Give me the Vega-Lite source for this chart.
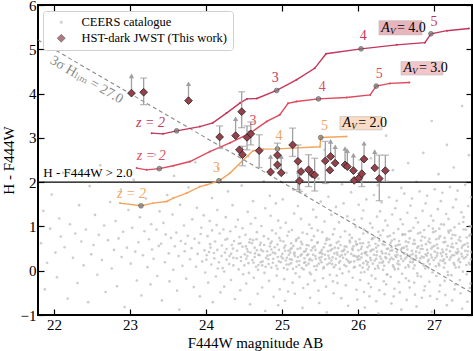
{
"$schema": "https://vega.github.io/schema/vega-lite/v6.json",
"width": 434, "height": 310,
"autosize": {"type": "none"},
"padding": {"left": 38, "top": 5, "right": 2, "bottom": 36},
"background": "white",
"config": {
 "view": {"stroke": "black", "strokeWidth": 2},
 "axis": {"labelFont": "Liberation Serif", "titleFont": "Liberation Serif", "labelFontSize": 15, "titleFontSize": 15, "titleFontWeight": "normal", "labelColor": "black", "titleColor": "black", "tickColor": "black", "tickWidth": 1.2, "tickSize": -6, "labelPadding": 8, "grid": false, "domain": false, "zindex": 1, "labelFlush": false},
 "text": {"font": "Liberation Serif"}
},
"datasets": {
 "ceers": [
{"m":21.83,"c":0.62},{"m":21.86,"c":1.35},{"m":21.88,"c":-0.42},{"m":21.91,"c":0.18},{"m":21.95,"c":0.95},{"m":21.97,"c":1.72},
{"m":22.02,"c":0.41},{"m":22.04,"c":-0.15},{"m":22.07,"c":1.18},{"m":22.09,"c":0.77},{"m":22.12,"c":2.21},{"m":22.14,"c":0.53},{"m":22.18,"c":-0.63},
{"m":22.21,"c":1.05},{"m":22.25,"c":0.29},{"m":22.28,"c":0.84},{"m":22.31,"c":-0.28},{"m":22.33,"c":1.48},{"m":22.36,"c":0.66},{"m":22.39,"c":0.12},
{"m":22.42,"c":0.93},{"m":22.45,"c":-0.71},{"m":22.47,"c":1.91},{"m":22.49,"c":0.37},{"m":22.52,"c":0.58},{"m":22.54,"c":1.26},{"m":22.57,"c":-0.09},{"m":22.59,"c":0.81},
{"m":22.61,"c":2.38},{"m":22.63,"c":0.24},{"m":22.66,"c":1.02},{"m":22.68,"c":-0.48},{"m":22.71,"c":0.69},{"m":22.74,"c":1.55},{"m":22.76,"c":0.05},{"m":22.79,"c":0.47},
{"m":22.81,"c":1.12},{"m":22.83,"c":-0.35},{"m":22.85,"c":0.73},{"m":22.88,"c":1.83},{"m":22.89,"c":0.31},{"m":22.91,"c":0.88},{"m":22.93,"c":-0.82},{"m":22.96,"c":0.52},{"m":22.98,"c":1.37},
{"m":23.01,"c":0.16},{"m":23.03,"c":0.97},{"m":23.05,"c":2.05},{"m":23.07,"c":0.43},{"m":23.09,"c":-0.22},
{"m":23.11,"c":0.64},{"m":23.13,"c":1.21},{"m":23.15,"c":-0.56},{"m":23.17,"c":0.35},{"m":23.19,"c":0.89},
{"m":23.21,"c":1.63},{"m":23.23,"c":0.08},{"m":23.25,"c":0.71},{"m":23.27,"c":-0.31},{"m":23.29,"c":0.48},{"m":23.28,"c":1.05},
{"m":23.31,"c":0.27},{"m":23.33,"c":2.62},{"m":23.35,"c":0.93},{"m":23.36,"c":-0.12},{"m":23.38,"c":0.56},{"m":23.39,"c":1.34},
{"m":23.41,"c":0.61},{"m":23.42,"c":-0.67},{"m":23.44,"c":1.08},{"m":23.46,"c":0.19},{"m":23.47,"c":0.82},{"m":23.49,"c":1.71},
{"m":23.51,"c":0.39},{"m":23.52,"c":-0.24},{"m":23.54,"c":0.74},{"m":23.56,"c":1.27},{"m":23.57,"c":0.02},{"m":23.59,"c":0.55},{"m":23.58,"c":2.14},
{"m":23.61,"c":0.86},{"m":23.62,"c":-0.45},{"m":23.64,"c":0.33},{"m":23.66,"c":1.49},{"m":23.67,"c":0.67},{"m":23.69,"c":0.11},{"m":23.65,"c":-0.88},
{"m":23.71,"c":1.02},{"m":23.72,"c":0.44},{"m":23.74,"c":-0.18},{"m":23.76,"c":0.79},{"m":23.77,"c":1.88},{"m":23.79,"c":0.26},{"m":23.73,"c":0.61},
{"m":23.81,"c":0.51},{"m":23.82,"c":1.16},{"m":23.84,"c":-0.37},{"m":23.85,"c":0.72},{"m":23.87,"c":0.09},{"m":23.88,"c":1.42},{"m":23.89,"c":0.38},{"m":23.86,"c":2.45},
{"m":23.91,"c":0.63},{"m":23.92,"c":-0.58},{"m":23.94,"c":0.97},{"m":23.95,"c":0.21},{"m":23.97,"c":1.25},{"m":23.98,"c":0.46},{"m":23.99,"c":-0.04},{"m":23.93,"c":0.83},
{"m":24.01,"c":0.35},{"m":24.02,"c":0.78},{"m":24.03,"c":-0.27},{"m":24.05,"c":1.12},{"m":24.06,"c":0.52},{"m":24.07,"c":0.14},{"m":24.08,"c":1.64},{"m":24.09,"c":-0.71},{"m":24.04,"c":0.42},{"m":24.08,"c":0.91},
{"m":24.11,"c":0.28},{"m":24.12,"c":0.66},{"m":24.13,"c":-0.13},{"m":24.14,"c":1.03},{"m":24.15,"c":0.47},{"m":24.16,"c":2.31},{"m":24.17,"c":0.19},{"m":24.18,"c":0.84},{"m":24.19,"c":-0.49},{"m":24.15,"c":1.37},
{"m":24.21,"c":0.57},{"m":24.22,"c":0.06},{"m":24.23,"c":0.93},{"m":24.24,"c":-0.36},{"m":24.25,"c":0.41},{"m":24.26,"c":1.21},{"m":24.27,"c":0.25},{"m":24.28,"c":0.72},{"m":24.29,"c":1.79},{"m":24.24,"c":-0.02},{"m":24.27,"c":0.49},
{"m":24.31,"c":0.33},{"m":24.32,"c":0.89},{"m":24.33,"c":-0.21},{"m":24.34,"c":0.58},{"m":24.35,"c":1.48},{"m":24.36,"c":0.12},{"m":24.37,"c":0.67},{"m":24.38,"c":-0.64},{"m":24.39,"c":0.99},{"m":24.33,"c":0.38},{"m":24.36,"c":0.29},
{"m":24.41,"c":0.45},{"m":24.42,"c":1.15},{"m":24.43,"c":0.03},{"m":24.44,"c":0.76},{"m":24.45,"c":-0.44},{"m":24.46,"c":0.31},{"m":24.47,"c":1.92},{"m":24.48,"c":0.54},{"m":24.49,"c":-0.08},{"m":24.43,"c":0.61},{"m":24.46,"c":0.22},{"m":24.48,"c":0.96},
{"m":24.51,"c":0.37},{"m":24.52,"c":0.81},{"m":24.53,"c":-0.29},{"m":24.54,"c":0.49},{"m":24.55,"c":1.33},{"m":24.56,"c":0.17},{"m":24.57,"c":0.64},{"m":24.58,"c":-0.76},{"m":24.59,"c":1.06},{"m":24.53,"c":0.27},{"m":24.55,"c":0.43},{"m":24.58,"c":0.71},{"m":24.56,"c":2.58},
{"m":24.61,"c":0.24},{"m":24.62,"c":0.69},{"m":24.63,"c":-0.16},{"m":24.64,"c":0.52},{"m":24.65,"c":1.19},{"m":24.66,"c":0.09},{"m":24.67,"c":0.87},{"m":24.68,"c":-0.52},{"m":24.69,"c":0.36},{"m":24.62,"c":1.57},{"m":24.64,"c":0.31},{"m":24.67,"c":0.46},{"m":24.69,"c":0.13},
{"m":24.71,"c":0.58},{"m":24.72,"c":0.19},{"m":24.73,"c":1.01},{"m":24.74,"c":-0.38},{"m":24.75,"c":0.44},{"m":24.76,"c":0.78},{"m":24.77,"c":-0.05},{"m":24.78,"c":1.41},{"m":24.79,"c":0.29},{"m":24.72,"c":0.63},{"m":24.74,"c":0.12},{"m":24.76,"c":2.02},{"m":24.78,"c":-0.91},
{"m":24.81,"c":0.34},{"m":24.82,"c":0.72},{"m":24.83,"c":-0.23},{"m":24.84,"c":0.55},{"m":24.85,"c":1.24},{"m":24.86,"c":0.07},{"m":24.87,"c":0.91},{"m":24.88,"c":0.41},{"m":24.89,"c":-0.59},{"m":24.82,"c":0.26},{"m":24.84,"c":1.69},{"m":24.86,"c":0.48},{"m":24.88,"c":0.18},{"m":24.85,"c":0.62},
{"m":24.91,"c":0.39},{"m":24.92,"c":0.84},{"m":24.93,"c":-0.11},{"m":24.94,"c":0.59},{"m":24.95,"c":1.13},{"m":24.96,"c":0.21},{"m":24.97,"c":-0.42},{"m":24.98,"c":0.68},{"m":24.99,"c":0.32},{"m":24.92,"c":1.52},{"m":24.94,"c":0.04},{"m":24.96,"c":0.47},{"m":24.98,"c":0.97},{"m":24.95,"c":-0.78},
{"m":25.01,"c":0.28},{"m":25.02,"c":0.66},{"m":25.03,"c":-0.19},{"m":25.04,"c":0.45},{"m":25.05,"c":1.08},{"m":25.06,"c":0.14},{"m":25.07,"c":0.79},{"m":25.08,"c":-0.47},{"m":25.09,"c":0.36},{"m":25.01,"c":1.61},{"m":25.03,"c":0.52},{"m":25.05,"c":0.23},{"m":25.07,"c":0.03},{"m":25.09,"c":0.88},{"m":25.04,"c":-0.68},{"m":25.06,"c":2.21},
{"m":25.11,"c":0.41},{"m":25.12,"c":0.17},{"m":25.13,"c":0.92},{"m":25.14,"c":-0.27},{"m":25.15,"c":0.56},{"m":25.16,"c":1.29},{"m":25.17,"c":0.33},{"m":25.18,"c":-0.06},{"m":25.19,"c":0.71},{"m":25.11,"c":0.48},{"m":25.13,"c":0.25},{"m":25.15,"c":1.83},{"m":25.17,"c":-0.52},{"m":25.19,"c":0.09},{"m":25.12,"c":0.62},{"m":25.16,"c":0.38},
{"m":25.21,"c":0.31},{"m":25.22,"c":0.74},{"m":25.23,"c":-0.14},{"m":25.24,"c":0.51},{"m":25.25,"c":1.17},{"m":25.26,"c":0.06},{"m":25.27,"c":0.86},{"m":25.28,"c":-0.39},{"m":25.29,"c":0.43},{"m":25.21,"c":1.46},{"m":25.23,"c":0.22},{"m":25.25,"c":0.65},{"m":25.27,"c":-0.84},{"m":25.29,"c":0.18},{"m":25.22,"c":2.47},{"m":25.26,"c":0.37},
{"m":25.31,"c":0.44},{"m":25.32,"c":0.12},{"m":25.33,"c":0.83},{"m":25.34,"c":-0.31},{"m":25.35,"c":0.57},{"m":25.36,"c":1.04},{"m":25.37,"c":0.27},{"m":25.38,"c":-0.08},{"m":25.39,"c":0.69},{"m":25.31,"c":1.72},{"m":25.33,"c":0.35},{"m":25.35,"c":0.16},{"m":25.37,"c":-0.61},{"m":25.39,"c":0.96},{"m":25.32,"c":0.49},{"m":25.36,"c":0.24},
{"m":25.41,"c":0.36},{"m":25.42,"c":0.78},{"m":25.43,"c":-0.22},{"m":25.44,"c":0.47},{"m":25.45,"c":1.21},{"m":25.46,"c":0.11},{"m":25.47,"c":0.64},{"m":25.48,"c":-0.45},{"m":25.49,"c":0.29},{"m":25.41,"c":1.38},{"m":25.43,"c":0.55},{"m":25.45,"c":0.02},{"m":25.47,"c":0.91},{"m":25.49,"c":-0.73},{"m":25.44,"c":0.33},{"m":25.48,"c":2.08},
{"m":25.51,"c":0.42},{"m":25.52,"c":0.19},{"m":25.53,"c":0.87},{"m":25.54,"c":-0.17},{"m":25.55,"c":0.53},{"m":25.56,"c":1.11},{"m":25.57,"c":0.26},{"m":25.58,"c":-0.36},{"m":25.59,"c":0.73},{"m":25.51,"c":1.56},{"m":25.53,"c":0.38},{"m":25.55,"c":0.08},{"m":25.57,"c":0.61},{"m":25.59,"c":-0.94},{"m":25.52,"c":0.31},{"m":25.56,"c":2.73},
{"m":25.61,"c":0.34},{"m":25.62,"c":0.71},{"m":25.63,"c":-0.09},{"m":25.64,"c":0.46},{"m":25.65,"c":1.26},{"m":25.66,"c":0.15},{"m":25.67,"c":0.82},{"m":25.68,"c":-0.51},{"m":25.69,"c":0.39},{"m":25.61,"c":1.67},{"m":25.63,"c":0.57},{"m":25.65,"c":0.23},{"m":25.67,"c":-0.24},{"m":25.69,"c":0.94},{"m":25.62,"c":0.28},{"m":25.66,"c":0.49},
{"m":25.71,"c":0.27},{"m":25.72,"c":0.63},{"m":25.73,"c":-0.28},{"m":25.74,"c":0.51},{"m":25.75,"c":1.09},{"m":25.76,"c":0.04},{"m":25.77,"c":0.76},{"m":25.78,"c":-0.62},{"m":25.79,"c":0.44},{"m":25.71,"c":1.44},{"m":25.73,"c":0.36},{"m":25.75,"c":0.18},{"m":25.77,"c":0.58},{"m":25.79,"c":1.95},{"m":25.72,"c":-0.11},{"m":25.76,"c":0.32},
{"m":25.81,"c":0.45},{"m":25.82,"c":0.13},{"m":25.83,"c":0.89},{"m":25.84,"c":-0.33},{"m":25.85,"c":0.54},{"m":25.86,"c":1.23},{"m":25.87,"c":0.22},{"m":25.88,"c":-0.02},{"m":25.89,"c":0.68},{"m":25.81,"c":1.52},{"m":25.83,"c":0.37},{"m":25.85,"c":0.26},{"m":25.87,"c":-0.79},{"m":25.89,"c":0.81},{"m":25.82,"c":0.48},{"m":25.86,"c":2.36},
{"m":25.91,"c":0.38},{"m":25.92,"c":0.74},{"m":25.93,"c":-0.16},{"m":25.94,"c":0.55},{"m":25.95,"c":1.15},{"m":25.96,"c":0.09},{"m":25.97,"c":0.66},{"m":25.98,"c":-0.43},{"m":25.99,"c":0.31},{"m":25.91,"c":1.77},{"m":25.93,"c":0.47},{"m":25.95,"c":0.21},{"m":25.97,"c":0.99},{"m":25.99,"c":-0.65},{"m":25.94,"c":0.34},{"m":25.98,"c":0.59},
{"m":26.01,"c":0.33},{"m":26.02,"c":0.71},{"m":26.03,"c":-0.21},{"m":26.04,"c":0.49},{"m":26.05,"c":1.18},{"m":26.06,"c":0.07},{"m":26.07,"c":0.84},{"m":26.08,"c":-0.48},{"m":26.09,"c":0.41},{"m":26.01,"c":1.49},{"m":26.02,"c":0.26},{"m":26.03,"c":0.62},{"m":26.04,"c":-0.04},{"m":26.05,"c":0.38},{"m":26.06,"c":2.12},{"m":26.07,"c":0.17},{"m":26.08,"c":0.93},{"m":26.09,"c":-0.83},{"m":26.05,"c":0.54},{"m":26.07,"c":1.36},
{"m":26.11,"c":0.42},{"m":26.12,"c":0.14},{"m":26.13,"c":0.86},{"m":26.14,"c":-0.29},{"m":26.15,"c":0.57},{"m":26.16,"c":1.07},{"m":26.17,"c":0.24},{"m":26.18,"c":-0.11},{"m":26.19,"c":0.73},{"m":26.11,"c":1.61},{"m":26.12,"c":0.35},{"m":26.13,"c":0.03},{"m":26.14,"c":0.64},{"m":26.15,"c":-0.58},{"m":26.16,"c":0.29},{"m":26.17,"c":2.54},{"m":26.18,"c":0.47},{"m":26.19,"c":0.97},{"m":26.13,"c":0.19},{"m":26.17,"c":-0.37},
{"m":26.21,"c":0.36},{"m":26.22,"c":0.76},{"m":26.23,"c":-0.18},{"m":26.24,"c":0.52},{"m":26.25,"c":1.22},{"m":26.26,"c":0.11},{"m":26.27,"c":0.88},{"m":26.28,"c":-0.44},{"m":26.29,"c":0.32},{"m":26.21,"c":1.71},{"m":26.22,"c":0.23},{"m":26.23,"c":0.61},{"m":26.24,"c":-0.69},{"m":26.25,"c":0.43},{"m":26.26,"c":1.93},{"m":26.27,"c":0.06},{"m":26.28,"c":0.68},{"m":26.29,"c":1.34},{"m":26.24,"c":0.27},{"m":26.27,"c":-0.96},
{"m":26.31,"c":0.44},{"m":26.32,"c":0.18},{"m":26.33,"c":0.91},{"m":26.34,"c":-0.24},{"m":26.35,"c":0.58},{"m":26.36,"c":1.13},{"m":26.37,"c":0.28},{"m":26.38,"c":-0.09},{"m":26.39,"c":0.77},{"m":26.31,"c":1.54},{"m":26.32,"c":0.39},{"m":26.33,"c":0.02},{"m":26.34,"c":0.66},{"m":26.35,"c":-0.53},{"m":26.36,"c":0.31},{"m":26.37,"c":3.05},{"m":26.38,"c":0.49},{"m":26.39,"c":1.02},{"m":26.33,"c":0.21},{"m":26.37,"c":-0.31},
{"m":26.41,"c":0.37},{"m":26.42,"c":0.79},{"m":26.43,"c":-0.14},{"m":26.44,"c":0.53},{"m":26.45,"c":1.27},{"m":26.46,"c":0.12},{"m":26.47,"c":0.85},{"m":26.48,"c":-0.41},{"m":26.49,"c":0.34},{"m":26.41,"c":1.66},{"m":26.42,"c":0.25},{"m":26.43,"c":0.63},{"m":26.44,"c":-0.74},{"m":26.45,"c":0.46},{"m":26.46,"c":2.27},{"m":26.47,"c":0.08},{"m":26.48,"c":0.71},{"m":26.49,"c":1.41},{"m":26.44,"c":0.29},{"m":26.47,"c":-0.58},
{"m":26.51,"c":0.43},{"m":26.52,"c":0.16},{"m":26.53,"c":0.94},{"m":26.54,"c":-0.26},{"m":26.55,"c":0.59},{"m":26.56,"c":1.16},{"m":26.57,"c":0.27},{"m":26.58,"c":-0.07},{"m":26.59,"c":0.81},{"m":26.51,"c":1.58},{"m":26.52,"c":0.36},{"m":26.53,"c":0.04},{"m":26.54,"c":0.67},{"m":26.55,"c":-0.49},{"m":26.56,"c":0.33},{"m":26.57,"c":1.87},{"m":26.58,"c":0.51},{"m":26.59,"c":1.05},{"m":26.53,"c":0.22},{"m":26.57,"c":-0.88},
{"m":26.61,"c":0.39},{"m":26.62,"c":0.82},{"m":26.63,"c":-0.17},{"m":26.64,"c":0.55},{"m":26.65,"c":1.31},{"m":26.66,"c":0.13},{"m":26.67,"c":0.89},{"m":26.68,"c":-0.38},{"m":26.69,"c":0.35},{"m":26.61,"c":1.74},{"m":26.62,"c":0.27},{"m":26.63,"c":0.66},{"m":26.64,"c":-0.66},{"m":26.65,"c":0.48},{"m":26.66,"c":2.43},{"m":26.67,"c":0.09},{"m":26.68,"c":0.73},{"m":26.69,"c":1.47},{"m":26.64,"c":0.31},{"m":26.67,"c":-0.23},
{"m":26.71,"c":0.45},{"m":26.72,"c":0.19},{"m":26.73,"c":0.97},{"m":26.74,"c":-0.27},{"m":26.75,"c":0.61},{"m":26.76,"c":1.19},{"m":26.77,"c":0.29},{"m":26.78,"c":-0.06},{"m":26.79,"c":0.84},{"m":26.71,"c":1.63},{"m":26.72,"c":0.38},{"m":26.73,"c":0.05},{"m":26.74,"c":0.69},{"m":26.75,"c":-0.54},{"m":26.76,"c":0.34},{"m":26.77,"c":2.01},{"m":26.78,"c":0.52},{"m":26.79,"c":1.09},{"m":26.73,"c":0.24},{"m":26.77,"c":-0.81},
{"m":26.81,"c":0.41},{"m":26.82,"c":0.86},{"m":26.83,"c":-0.13},{"m":26.84,"c":0.57},{"m":26.85,"c":1.35},{"m":26.86,"c":0.15},{"m":26.87,"c":0.92},{"m":26.88,"c":-0.35},{"m":26.89,"c":0.37},{"m":26.81,"c":1.79},{"m":26.82,"c":0.28},{"m":26.83,"c":0.68},{"m":26.84,"c":-0.61},{"m":26.85,"c":0.49},{"m":26.86,"c":2.66},{"m":26.87,"c":0.11},{"m":26.88,"c":0.75},{"m":26.89,"c":1.52},{"m":26.84,"c":0.32},{"m":26.87,"c":-0.44},
{"m":26.91,"c":0.47},{"m":26.92,"c":0.21},{"m":26.93,"c":1.01},{"m":26.94,"c":-0.25},{"m":26.95,"c":0.63},{"m":26.96,"c":1.24},{"m":26.97,"c":0.3},{"m":26.98,"c":-0.04},{"m":26.99,"c":0.87},{"m":26.91,"c":1.69},{"m":26.92,"c":0.4},{"m":26.93,"c":0.06},{"m":26.94,"c":0.72},{"m":26.95,"c":-0.57},{"m":26.96,"c":0.36},{"m":26.97,"c":3.38},{"m":26.98,"c":0.54},{"m":26.99,"c":1.13},{"m":26.93,"c":0.25},{"m":26.97,"c":-0.93},
{"m":27.01,"c":0.43},{"m":27.02,"c":0.89},{"m":27.03,"c":-0.12},{"m":27.04,"c":0.59},{"m":27.05,"c":1.39},{"m":27.06,"c":0.16},{"m":27.07,"c":0.95},{"m":27.08,"c":-0.33},{"m":27.09,"c":0.39},{"m":27.01,"c":1.84},{"m":27.02,"c":0.29},{"m":27.03,"c":0.71},{"m":27.04,"c":-0.64},{"m":27.05,"c":0.51},{"m":27.06,"c":2.18},{"m":27.07,"c":0.12},{"m":27.08,"c":0.78},{"m":27.09,"c":1.57},{"m":27.04,"c":0.34},{"m":27.07,"c":-0.47},
{"m":27.11,"c":0.48},{"m":27.12,"c":0.22},{"m":27.13,"c":1.04},{"m":27.14,"c":-0.23},{"m":27.15,"c":0.65},{"m":27.16,"c":1.28},{"m":27.17,"c":0.31},{"m":27.18,"c":-0.03},{"m":27.19,"c":0.9},{"m":27.11,"c":1.76},{"m":27.12,"c":0.42},{"m":27.13,"c":0.07},{"m":27.14,"c":0.74},{"m":27.15,"c":-0.55},{"m":27.16,"c":0.37},{"m":27.17,"c":2.84},{"m":27.18,"c":0.56},{"m":27.19,"c":1.17},{"m":27.13,"c":0.26},{"m":27.17,"c":-0.78},
{"m":27.21,"c":0.44},{"m":27.22,"c":0.91},{"m":27.23,"c":-0.1},{"m":27.24,"c":0.61},{"m":27.25,"c":1.43},{"m":27.26,"c":0.17},{"m":27.27,"c":0.98},{"m":27.28,"c":-0.31},{"m":27.29,"c":0.41},{"m":27.21,"c":1.89},{"m":27.22,"c":0.3},{"m":27.23,"c":0.73},{"m":27.24,"c":-0.67},{"m":27.25,"c":0.53},{"m":27.26,"c":2.33},{"m":27.27,"c":0.13},{"m":27.28,"c":0.8},{"m":27.29,"c":1.61},{"m":27.24,"c":0.35},{"m":27.27,"c":-0.42},
{"m":27.31,"c":0.49},{"m":27.32,"c":0.23},{"m":27.33,"c":1.06},{"m":27.34,"c":-0.21},{"m":27.35,"c":0.67},{"m":27.36,"c":1.32},{"m":27.37,"c":0.32},{"m":27.38,"c":-0.02},{"m":27.39,"c":0.93},{"m":27.31,"c":1.81},{"m":27.32,"c":0.43},{"m":27.33,"c":0.08},{"m":27.34,"c":0.76},{"m":27.35,"c":-0.51},{"m":27.36,"c":0.38},{"m":27.37,"c":3.72},{"m":27.38,"c":0.57},{"m":27.39,"c":1.21},{"m":27.33,"c":0.27},{"m":27.37,"c":-0.86},
{"m":27.41,"c":0.45},{"m":27.42,"c":0.93},{"m":27.43,"c":-0.08},{"m":27.44,"c":0.62},{"m":27.45,"c":1.46},{"m":27.46,"c":0.18},{"m":27.47,"c":1.01},{"m":27.48,"c":-0.29},{"m":27.49,"c":0.42},{"m":27.41,"c":1.94},{"m":27.42,"c":0.31},{"m":27.43,"c":0.75},{"m":27.44,"c":-0.7},{"m":27.45,"c":0.54},{"m":27.46,"c":2.61},{"m":27.47,"c":0.14},{"m":27.48,"c":0.82},{"m":27.49,"c":1.66},{"m":27.44,"c":0.36},{"m":27.47,"c":-0.39},
{"m":24.005,"c":0.25},{"m":24.055,"c":0.6},{"m":24.105,"c":0.4},{"m":24.155,"c":0.05},{"m":24.205,"c":0.33},{"m":24.255,"c":0.7},{"m":24.305,"c":0.15},{"m":24.355,"c":0.5},{"m":24.405,"c":0.28},{"m":24.455,"c":0.62},
{"m":24.505,"c":0.12},{"m":24.525,"c":0.55},{"m":24.545,"c":0.33},{"m":24.565,"c":-0.05},{"m":24.585,"c":0.41},
{"m":24.605,"c":0.62},{"m":24.625,"c":0.18},{"m":24.645,"c":0.39},{"m":24.665,"c":0.71},{"m":24.685,"c":0.02},
{"m":24.705,"c":0.35},{"m":24.725,"c":0.47},{"m":24.745,"c":0.21},{"m":24.765,"c":0.58},{"m":24.785,"c":0.09},
{"m":24.805,"c":0.44},{"m":24.825,"c":0.15},{"m":24.845,"c":0.36},{"m":24.865,"c":0.66},{"m":24.885,"c":0.27},
{"m":24.905,"c":0.53},{"m":24.925,"c":0.11},{"m":24.945,"c":0.31},{"m":24.965,"c":0.74},{"m":24.985,"c":0.19},
{"m":25.005,"c":0.38},{"m":25.025,"c":0.06},{"m":25.045,"c":0.57},{"m":25.065,"c":0.29},{"m":25.085,"c":0.45},{"m":25.095,"c":0.14},
{"m":25.105,"c":0.26},{"m":25.125,"c":0.51},{"m":25.145,"c":0.04},{"m":25.165,"c":0.41},{"m":25.185,"c":0.67},{"m":25.195,"c":0.21},
{"m":25.205,"c":0.49},{"m":25.225,"c":0.13},{"m":25.245,"c":0.34},{"m":25.265,"c":0.6},{"m":25.285,"c":0.03},{"m":25.295,"c":0.28},
{"m":25.305,"c":0.19},{"m":25.325,"c":0.58},{"m":25.345,"c":0.37},{"m":25.365,"c":-0.04},{"m":25.385,"c":0.46},{"m":25.395,"c":0.23},
{"m":25.405,"c":0.52},{"m":25.425,"c":0.1},{"m":25.445,"c":0.27},{"m":25.465,"c":0.63},{"m":25.485,"c":0.16},{"m":25.495,"c":0.4},
{"m":25.505,"c":0.24},{"m":25.525,"c":0.47},{"m":25.545,"c":0.05},{"m":25.565,"c":0.36},{"m":25.585,"c":0.69},{"m":25.595,"c":0.14},
{"m":25.605,"c":0.44},{"m":25.625,"c":0.17},{"m":25.645,"c":0.58},{"m":25.665,"c":0.3},{"m":25.685,"c":0.08},{"m":25.695,"c":0.52},
{"m":25.705,"c":0.13},{"m":25.725,"c":0.41},{"m":25.745,"c":0.66},{"m":25.765,"c":0.22},{"m":25.785,"c":0.35},{"m":25.795,"c":-0.06},
{"m":25.805,"c":0.29},{"m":25.825,"c":0.55},{"m":25.845,"c":0.1},{"m":25.865,"c":0.42},{"m":25.885,"c":0.18},{"m":25.895,"c":0.64},
{"m":25.905,"c":0.2},{"m":25.925,"c":0.5},{"m":25.945,"c":0.07},{"m":25.965,"c":0.33},{"m":25.985,"c":0.6},{"m":25.995,"c":0.25},
{"m":26.005,"c":0.46},{"m":26.025,"c":0.12},{"m":26.045,"c":0.3},{"m":26.065,"c":0.62},{"m":26.085,"c":-0.03},{"m":26.095,"c":0.39},
{"m":26.105,"c":0.22},{"m":26.125,"c":0.53},{"m":26.145,"c":0.09},{"m":26.165,"c":0.44},{"m":26.185,"c":0.71},{"m":26.195,"c":0.16},
{"m":26.205,"c":0.48},{"m":26.225,"c":0.04},{"m":26.245,"c":0.35},{"m":26.265,"c":0.57},{"m":26.285,"c":0.18},{"m":26.295,"c":0.8},
{"m":26.305,"c":0.27},{"m":26.325,"c":0.6},{"m":26.345,"c":0.11},{"m":26.365,"c":0.39},{"m":26.385,"c":-0.08},{"m":26.395,"c":0.5},
{"m":26.405,"c":0.19},{"m":26.425,"c":0.45},{"m":26.445,"c":0.68},{"m":26.465,"c":0.26},{"m":26.485,"c":0.03},{"m":26.495,"c":0.56},
{"m":26.505,"c":0.31},{"m":26.525,"c":0.58},{"m":26.545,"c":0.14},{"m":26.565,"c":0.47},{"m":26.585,"c":0.82},{"m":26.595,"c":0.22},
{"m":26.605,"c":0.52},{"m":26.625,"c":0.07},{"m":26.645,"c":0.37},{"m":26.665,"c":0.64},{"m":26.685,"c":0.2},{"m":26.695,"c":0.9},
{"m":26.705,"c":0.28},{"m":26.725,"c":0.61},{"m":26.745,"c":0.12},{"m":26.765,"c":0.43},{"m":26.785,"c":-0.12},{"m":26.795,"c":0.55},
{"m":26.805,"c":0.21},{"m":26.825,"c":0.49},{"m":26.845,"c":0.77},{"m":26.865,"c":0.3},{"m":26.885,"c":0.05},{"m":26.895,"c":0.6},
{"m":26.905,"c":0.34},{"m":26.925,"c":0.66},{"m":26.945,"c":0.15},{"m":26.965,"c":0.5},{"m":26.985,"c":0.95},{"m":26.995,"c":0.24},
{"m":27.005,"c":0.56},{"m":27.025,"c":0.1},{"m":27.045,"c":0.4},{"m":27.065,"c":0.73},{"m":27.085,"c":0.23},{"m":27.095,"c":1.05},
{"m":27.105,"c":0.33},{"m":27.125,"c":0.64},{"m":27.145,"c":0.17},{"m":27.165,"c":0.48},{"m":27.185,"c":-0.1},{"m":27.195,"c":0.86},
{"m":27.205,"c":0.25},{"m":27.225,"c":0.54},{"m":27.245,"c":0.81},{"m":27.265,"c":0.35},{"m":27.285,"c":0.07},{"m":27.295,"c":0.62},
{"m":27.305,"c":0.39},{"m":27.325,"c":0.7},{"m":27.345,"c":0.19},{"m":27.365,"c":0.52},{"m":27.385,"c":1.1},{"m":27.395,"c":0.28},
{"m":27.405,"c":0.59},{"m":27.425,"c":0.13},{"m":27.445,"c":0.44},{"m":27.465,"c":0.79},{"m":27.485,"c":0.26},{"m":27.495,"c":1.0}
 ],
 "src": [
{"m":23.02,"c":4.01,"up":4.40},{"m":23.18,"c":4.03,"hi":4.35,"lo":3.75},{"m":23.77,"c":3.84,"up":4.22},
{"m":24.47,"c":3.59,"hi":4.04,"lo":3.23},{"m":24.18,"c":3.02,"hi":3.27,"lo":2.76},{"m":24.39,"c":3.05,"up":3.43},
{"m":24.54,"c":3.01,"hi":3.27,"lo":2.73},{"m":24.59,"c":3.09,"hi":3.36,"lo":2.84},{"m":24.44,"c":2.73},
{"m":24.48,"c":2.62,"hi":2.81,"lo":2.37},{"m":24.70,"c":2.71,"hi":3.07,"lo":2.33},{"m":24.85,"c":2.23,"up":2.58},
{"m":24.94,"c":2.61,"hi":2.88,"lo":2.30},{"m":24.94,"c":2.39},{"m":24.99,"c":2.21,"up":2.58},
{"m":25.14,"c":2.84,"hi":3.22,"lo":2.58},{"m":25.21,"c":2.47,"hi":2.84,"lo":1.83},{"m":25.25,"c":2.24},
{"m":25.23,"c":2.03,"hi":2.2,"lo":1.79},{"m":25.35,"c":2.28,"hi":2.62,"lo":1.90},{"m":25.40,"c":2.18},
{"m":25.43,"c":2.16,"hi":2.54,"lo":1.80},{"m":25.57,"c":2.48,"hi":2.92,"lo":1.97},{"m":25.64,"c":2.58,"up":2.92},
{"m":25.70,"c":2.43,"up":2.80},{"m":25.63,"c":2.27},{"m":25.83,"c":2.39,"up":2.76},
{"m":25.86,"c":2.35,"up":2.71},{"m":25.94,"c":2.26,"up":2.61},{"m":25.95,"c":2.04},
{"m":26.01,"c":2.09},{"m":26.05,"c":2.19,"hi":2.5,"lo":1.9},{"m":26.08,"c":2.52,"up":2.88},
{"m":26.22,"c":2.32,"up":2.69},{"m":26.28,"c":2.08,"hi":2.61,"lo":1.58},{"m":26.36,"c":2.26,"hi":2.61,"lo":2.02}
 ],
 "tracks": [
{"g":"4","m":23.285,"c":3.106},{"g":"4","m":23.434,"c":3.09},{"g":"4","m":23.614,"c":3.158},{"g":"4","m":23.92,"c":3.255},{"g":"4","m":24.09,"c":3.34},{"g":"4","m":24.27,"c":3.56},{"g":"4","m":24.45,"c":3.79},{"g":"4","m":24.54,"c":3.88},{"g":"4","m":24.67,"c":3.89},{"g":"4","m":24.93,"c":4.07},{"g":"4","m":25.19,"c":4.31},{"g":"4","m":25.43,"c":4.57},{"g":"4","m":25.58,"c":4.9},{"g":"4","m":26.04,"c":5.01},{"g":"4","m":26.51,"c":5.10},{"g":"4","m":26.88,"c":5.15},{"g":"4","m":26.96,"c":5.35},{"g":"4","m":27.17,"c":5.42},{"g":"4","m":27.46,"c":5.47},
{"g":"3","m":23.088,"c":2.317},{"g":"3","m":23.22,"c":2.278},{"g":"3","m":23.386,"c":2.305},{"g":"3","m":23.57,"c":2.37},{"g":"3","m":23.79,"c":2.466},{"g":"3","m":24.05,"c":2.69},{"g":"3","m":24.316,"c":2.887},{"g":"3","m":24.58,"c":3.106},{"g":"3","m":24.80,"c":3.37},{"g":"3","m":24.97,"c":3.52},{"g":"3","m":25.08,"c":3.78},{"g":"3","m":25.19,"c":3.82},{"g":"3","m":25.48,"c":3.88},{"g":"3","m":25.85,"c":3.91},{"g":"3","m":26.16,"c":3.97},{"g":"3","m":26.24,"c":4.17},{"g":"3","m":26.42,"c":4.23},{"g":"3","m":26.675,"c":4.25},
{"g":"2","m":22.868,"c":1.527},{"g":"2","m":23.145,"c":1.466},{"g":"2","m":23.307,"c":1.527},{"g":"2","m":23.483,"c":1.563},{"g":"2","m":23.57,"c":1.64},{"g":"2","m":23.746,"c":1.753},{"g":"2","m":23.92,"c":1.90},{"g":"2","m":24.01,"c":1.94},{"g":"2","m":24.17,"c":2.03},{"g":"2","m":24.316,"c":2.204},{"g":"2","m":24.49,"c":2.50},{"g":"2","m":24.62,"c":2.71},{"g":"2","m":24.754,"c":2.745},{"g":"2","m":24.94,"c":2.752},{"g":"2","m":25.5,"c":2.80},{"g":"2","m":25.51,"c":3.007},{"g":"2","m":25.85,"c":3.03}
 ],
 "zdots": [
{"m":23.614,"c":3.158},{"m":24.93,"c":4.07},{"m":26.04,"c":5.01},{"m":26.96,"c":5.35},
{"m":23.386,"c":2.305},{"m":24.58,"c":3.106},{"m":25.48,"c":3.88},{"m":26.24,"c":4.17},
{"m":23.145,"c":1.466},{"m":24.17,"c":2.03},{"m":24.94,"c":2.752},{"m":25.51,"c":3.007}
 ],
 "labels": [
{"g":"4","z":true,"m":23.27,"c":3.33,"t":"z = 2"},{"g":"4","z":false,"m":24.91,"c":4.35,"t":"3"},{"g":"4","z":false,"m":26.07,"c":5.30,"t":"4"},{"g":"4","z":false,"m":27.0,"c":5.62,"t":"5"},
{"g":"3","z":true,"m":23.28,"c":2.59,"t":"z = 2"},{"g":"3","z":false,"m":24.62,"c":3.38,"t":"3"},{"g":"3","z":false,"m":25.53,"c":4.15,"t":"4"},{"g":"3","z":false,"m":26.28,"c":4.44,"t":"5"},
{"g":"2","z":true,"m":23.02,"c":1.74,"t":"z = 2"},{"g":"2","z":false,"m":24.14,"c":2.31,"t":"3"},{"g":"2","z":false,"m":24.96,"c":3.05,"t":"4"},{"g":"2","z":false,"m":25.56,"c":3.27,"t":"5"}
 ],
 "boxes": [
{"g":"4","x1":26.276,"x2":26.842,"y1":5.324,"y2":5.646,"m":26.42,"c":5.485,"t":"= 4.0"},
{"g":"3","x1":26.566,"x2":27.118,"y1":4.42,"y2":4.72,"m":26.71,"c":4.57,"t":"= 3.0"},
{"g":"2","x1":25.763,"x2":26.316,"y1":3.18,"y2":3.48,"m":25.91,"c":3.33,"t":"= 2.0"}
 ],
 "lim": [{"m":21.79,"c":5.21},{"m":27.5,"c":-0.5}],
 "hline": [{"c":2}],
 "notes": [
{"k":"lim","m":22.43,"c":4.31,"t":"3σ Hₗᵢₘ = 27.0"},
{"k":"cut","m":21.86,"c":2.21,"t":"H - F444W > 2.0"}
 ]
},
"resolve": {"axis": {"x": "independent", "y": "independent"}},
"layer": [
 {
  "data": {"name": "ceers"},
  "mark": {"type": "point", "filled": true, "opacity": 0.7, "strokeWidth": 0, "clip": true},
  "encoding": {
   "x": {"field": "m", "type": "quantitative", "scale": {"domain": [21.79, 27.5], "nice": false, "zero": false},
         "axis": {"orient": "bottom", "values": [22, 23, 24, 25, 26, 27], "title": "F444W magnitude AB", "titleBaseline": "alphabetic", "titleY": 32}},
   "y": {"field": "c", "type": "quantitative", "scale": {"domain": [-1, 6], "nice": false, "zero": false},
         "axis": {"orient": "left", "values": [-1, 0, 1, 2, 3, 4, 5, 6], "title": "H - F444W", "titlePadding": 4}},
   "fill": {"datum": "CEERS catalogue", "type": "nominal",
            "scale": {"domain": ["CEERS catalogue", "HST-dark JWST (This work)"], "range": ["#b8b8b8", "#96404c"]},
            "legend": {"orient": "none", "legendX": 5, "legendY": 6, "title": null, "labelFont": "Liberation Serif", "labelFontSize": 12.5, "labelColor": "black", "strokeColor": "#d0d0d0", "fillColor": "white", "padding": 5, "cornerRadius": 3, "rowPadding": 3, "symbolStrokeWidth": 0.8, "labelOffset": 14, "symbolOffset": 7, "symbolOpacity": 1}},
   "stroke": {"datum": "CEERS catalogue", "type": "nominal",
            "scale": {"domain": ["CEERS catalogue", "HST-dark JWST (This work)"], "range": ["#cfcfcf", "#222222"]}},
   "shape": {"datum": "CEERS catalogue", "type": "nominal",
            "scale": {"domain": ["CEERS catalogue", "HST-dark JWST (This work)"], "range": ["circle", "diamond"]}},
   "size": {"datum": "CEERS catalogue", "type": "ordinal",
            "scale": {"domain": ["CEERS catalogue", "HST-dark JWST (This work)"], "range": [7, 60]}}
  }
 },
 {
  "data": {"name": "lim"},
  "mark": {"type": "line", "color": "#8a8a8a", "strokeWidth": 1.1, "strokeDash": [4, 3], "clip": true},
  "encoding": {
   "x": {"field": "m", "type": "quantitative", "axis": {"orient": "top", "values": [22, 23, 24, 25, 26, 27], "labels": false, "title": null}},
   "y": {"field": "c", "type": "quantitative", "axis": {"orient": "right", "values": [-1, 0, 1, 2, 3, 4, 5, 6], "labels": false, "title": null}}
  }
 },
 {
  "data": {"name": "hline"},
  "mark": {"type": "rule", "color": "black", "strokeWidth": 1.4},
  "encoding": {"y": {"field": "c", "type": "quantitative", "axis": null}}
 },
 {
  "data": {"name": "tracks"},
  "mark": {"type": "line", "strokeWidth": 1.4, "point": {"filled": true, "size": 4}, "clip": true},
  "encoding": {
   "x": {"field": "m", "type": "quantitative", "axis": null},
   "y": {"field": "c", "type": "quantitative", "axis": null},
   "color": {"field": "g", "type": "nominal", "scale": {"domain": ["4", "3", "2"], "range": ["#c2375c", "#de4a5c", "#f4a55c"]}, "legend": null}
  }
 },
 {
  "data": {"name": "zdots"},
  "mark": {"type": "point", "filled": true, "shape": "circle", "size": 22, "fill": "#7c7c7c", "stroke": "#333333", "strokeWidth": 0.8},
  "encoding": {
   "x": {"field": "m", "type": "quantitative", "axis": null},
   "y": {"field": "c", "type": "quantitative", "axis": null}
  }
 },
 {
  "data": {"name": "src"},
  "transform": [{"filter": "isValid(datum.hi)"}],
  "layer": [
   {"mark": {"type": "rule", "color": "#a0a0a0", "strokeWidth": 1.3},
    "encoding": {"x": {"field": "m", "type": "quantitative", "axis": null}, "y": {"field": "hi", "type": "quantitative", "axis": null}, "y2": {"field": "lo"}}},
   {"mark": {"type": "tick", "orient": "horizontal", "color": "#a0a0a0", "size": 7, "thickness": 1.3},
    "encoding": {"x": {"field": "m", "type": "quantitative", "axis": null}, "y": {"field": "hi", "type": "quantitative", "axis": null}}},
   {"mark": {"type": "tick", "orient": "horizontal", "color": "#a0a0a0", "size": 7, "thickness": 1.3},
    "encoding": {"x": {"field": "m", "type": "quantitative", "axis": null}, "y": {"field": "lo", "type": "quantitative", "axis": null}}}
  ]
 },
 {
  "data": {"name": "src"},
  "transform": [{"filter": "isValid(datum.up)"}],
  "layer": [
   {"mark": {"type": "rule", "color": "#a0a0a0", "strokeWidth": 1.3},
    "encoding": {"x": {"field": "m", "type": "quantitative", "axis": null}, "y": {"field": "c", "type": "quantitative", "axis": null}, "y2": {"field": "up"}}},
   {"mark": {"type": "point", "shape": "triangle-up", "filled": true, "color": "#a0a0a0", "size": 28, "opacity": 1},
    "encoding": {"x": {"field": "m", "type": "quantitative", "axis": null}, "y": {"field": "up", "type": "quantitative", "axis": null}}}
  ]
 },
 {
  "data": {"name": "src"},
  "mark": {"type": "point", "filled": true, "opacity": 1, "strokeWidth": 0.8},
  "encoding": {
   "x": {"field": "m", "type": "quantitative", "axis": null},
   "y": {"field": "c", "type": "quantitative", "axis": null},
   "fill": {"datum": "HST-dark JWST (This work)", "type": "nominal"},
   "stroke": {"datum": "HST-dark JWST (This work)", "type": "nominal"},
   "shape": {"datum": "HST-dark JWST (This work)", "type": "nominal"},
   "size": {"datum": "HST-dark JWST (This work)", "type": "ordinal"}
  }
 },
 {
  "data": {"name": "boxes"},
  "layer": [
   {"mark": {"type": "rect", "stroke": "#bbbbbb", "strokeWidth": 0.6},
    "encoding": {
     "x": {"field": "x1", "type": "quantitative", "axis": null}, "x2": {"field": "x2"},
     "y": {"field": "y1", "type": "quantitative", "axis": null}, "y2": {"field": "y2"},
     "fill": {"condition": [{"test": "datum.g === '4'", "value": "#e8b5bd"}, {"test": "datum.g === '3'", "value": "#f2c5c9"}], "value": "#f8dcc5"}}},
   {"mark": {"type": "text", "text": "A", "fontStyle": "italic", "fontSize": 14, "align": "right", "baseline": "middle", "color": "black"},
    "encoding": {"x": {"field": "m", "type": "quantitative", "axis": null}, "y": {"field": "c", "type": "quantitative", "axis": null}}},
   {"mark": {"type": "text", "text": "V", "fontStyle": "italic", "fontSize": 9, "align": "left", "baseline": "middle", "dx": 0, "dy": 3, "color": "black"},
    "encoding": {"x": {"field": "m", "type": "quantitative", "axis": null}, "y": {"field": "c", "type": "quantitative", "axis": null}}},
   {"mark": {"type": "text", "fontSize": 14, "align": "left", "baseline": "middle", "dx": 7, "color": "black"},
    "encoding": {"x": {"field": "m", "type": "quantitative", "axis": null}, "y": {"field": "c", "type": "quantitative", "axis": null}, "text": {"field": "t"}}}
  ]
 },
 {
  "data": {"name": "labels"},
  "transform": [{"filter": "datum.z"}],
  "mark": {"type": "text", "fontSize": 14, "fontStyle": "italic", "align": "center", "baseline": "middle"},
  "encoding": {
   "x": {"field": "m", "type": "quantitative", "axis": null},
   "y": {"field": "c", "type": "quantitative", "axis": null},
   "text": {"field": "t"},
   "color": {"field": "g", "type": "nominal", "legend": null}
  }
 },
 {
  "data": {"name": "labels"},
  "transform": [{"filter": "!datum.z"}],
  "mark": {"type": "text", "fontSize": 14, "align": "center", "baseline": "middle"},
  "encoding": {
   "x": {"field": "m", "type": "quantitative", "axis": null},
   "y": {"field": "c", "type": "quantitative", "axis": null},
   "text": {"field": "t"},
   "color": {"field": "g", "type": "nominal", "legend": null}
  }
 },
 {
  "data": {"name": "notes"},
  "transform": [{"filter": "datum.k === 'lim'"}],
  "mark": {"type": "text", "fontSize": 14, "angle": 30, "align": "center", "baseline": "middle", "color": "#8a8a8a", "font": "Liberation Serif, DejaVu Serif"},
  "encoding": {
   "x": {"field": "m", "type": "quantitative", "axis": null},
   "y": {"field": "c", "type": "quantitative", "axis": null},
   "text": {"field": "t"}
  }
 },
 {
  "data": {"name": "notes"},
  "transform": [{"filter": "datum.k === 'cut'"}],
  "mark": {"type": "text", "fontSize": 13, "align": "left", "baseline": "middle", "color": "black"},
  "encoding": {
   "x": {"field": "m", "type": "quantitative", "axis": null},
   "y": {"field": "c", "type": "quantitative", "axis": null},
   "text": {"field": "t"}
  }
 }
]
}
